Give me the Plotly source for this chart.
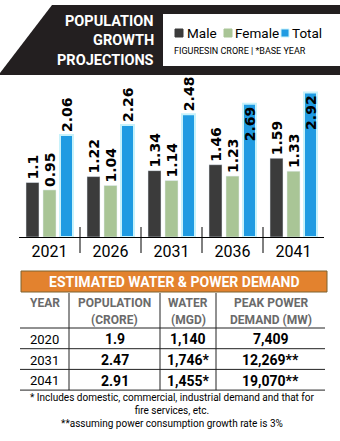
import plotly.graph_objects as go

# ---------------- data ----------------
years = ["2021", "2026", "2031", "2036", "2041"]
male = [1.1, 1.22, 1.34, 1.46, 1.59]
female = [0.95, 1.04, 1.14, 1.23, 1.33]
total = [2.06, 2.26, 2.48, 2.69, 2.92]

title_lines = ["POPULATION", "GROWTH", "PROJECTIONS"]
legend_names = ["Male", "Female", "Total"]
subnote = "FIGURESIN CRORE | *BASE YEAR"

table_title = "ESTIMATED WATER & POWER DEMAND"
table_header_top = ["YEAR", "POPULATION", "WATER", "PEAK POWER"]
table_header_bottom = ["", "(CRORE)", "(MGD)", "DEMAND (MW)"]
table_years = ["2020", "2031", "2041"]
table_population = ["1.9", "2.47", "2.91"]
table_water = ["1,140", "1,746*", "1,455*"]
table_power = ["7,409", "12,269**", "19,070**"]

footnotes = [
    "* Includes domestic, commercial, industrial demand and that for",
    "fire services, etc.",
    "**assuming power consumption growth rate is 3%",
]

# ---------------- style ----------------
W, H = 340, 441
C_MALE = "#3b3b3b"
C_FEMALE = "#a9c596"
C_TOTAL = "#1f9be2"
C_HALO = "#c8f2fb"
C_DARK = "#231f20"
C_ORANGE = "#e3822e"
NARROW = "Roboto, DejaVu Sans Condensed, sans-serif"
LABEL = "DejaVu Sans, sans-serif"


def X(px):
    return px / W


def Y(py):
    return 1 - py / H


fig = go.Figure()

label_font = dict(family=LABEL, size=14, color="black", weight="bold")
common = dict(texttemplate="%{y}", textangle=-90, textfont=label_font,
              outsidetextfont=label_font, insidetextfont=label_font,
              cliponaxis=False, constraintext="none")

fig.add_trace(go.Bar(x=years, y=male, name=legend_names[0], marker_color=C_MALE,
                     textposition="outside", **common))
fig.add_trace(go.Bar(x=years, y=female, name=legend_names[1], marker_color=C_FEMALE,
                     textposition="outside", **common))
fig.add_trace(go.Bar(x=years, y=total, name=legend_names[2], marker_color=C_TOTAL,
                     marker_line=dict(color=C_HALO, width=2),
                     textposition=["outside", "outside", "outside", "inside", "inside"],
                     insidetextanchor="end", **common))

shapes = []
# header dark band
shapes.append(dict(type="path", xref="paper", yref="paper",
                   path=f"M {X(52)},{Y(5)} L {X(340)},{Y(5)} L {X(340)},{Y(75)} L {X(0)},{Y(75)} L {X(0)},{Y(73)} Z",
                   fillcolor=C_DARK, line_width=0, layer="below"))
shapes.append(dict(type="rect", xref="paper", yref="paper",
                   x0=X(163), x1=X(340), y0=Y(66), y1=Y(14),
                   fillcolor="white", line_width=0, layer="below"))
# legend squares
for px, col in [(175, C_MALE), (224, C_FEMALE), (281, C_TOTAL)]:
    shapes.append(dict(type="rect", xref="paper", yref="paper",
                       x0=X(px), x1=X(px + 8), y0=Y(37), y1=Y(29),
                       fillcolor=col,
                       line=dict(color=C_HALO if col == C_TOTAL else col, width=1)))
# category separators
for i in range(len(years) - 1):
    shapes.append(dict(type="line", xref="x", yref="paper",
                       x0=i + 0.5, x1=i + 0.5, y0=Y(227), y1=Y(253),
                       line=dict(color="black", width=1)))
# orange title bar
shapes.append(dict(type="rect", xref="paper", yref="paper",
                   x0=X(21), x1=X(327), y0=Y(292), y1=Y(271),
                   fillcolor=C_ORANGE, line=dict(color="#7d6230", width=1)))

# table grid
col_edges = [20, 69, 160, 216, 325]
header_top_y, header_bot_y = 293, 328
row_h = 20.7
row_lines = [header_bot_y + row_h * (i + 1) for i in range(len(table_years))]
for py in [header_bot_y] + row_lines:
    shapes.append(dict(type="line", xref="paper", yref="paper",
                       x0=X(col_edges[0]), x1=X(col_edges[-1]), y0=Y(py), y1=Y(py),
                       line=dict(color="#222", width=1)))
for px in col_edges[1:-1]:
    shapes.append(dict(type="line", xref="paper", yref="paper",
                       x0=X(px), x1=X(px), y0=Y(header_top_y), y1=Y(row_lines[-1]),
                       line=dict(color="#222", width=1)))

annotations = []


def ann(text, px, py, font, xanchor="center"):
    annotations.append(dict(text=text, xref="paper", yref="paper", x=X(px), y=Y(py),
                            xanchor=xanchor, yanchor="middle", showarrow=False, font=font))


for txt, py in zip(title_lines, [22, 41, 60]):
    ann(txt, 156, py, dict(family=NARROW, size=14.5, color="white", weight="bold"), "right")
for txt, px in zip(legend_names, [185, 233, 290]):
    ann(txt, px, 33, dict(family=NARROW, size=13.5, color="black"), "left")
ann(subnote, 172, 51, dict(family=NARROW, size=9, color="black"), "left")
ann(table_title, 174, 281.5, dict(family=NARROW, size=14, color="white", weight="bold"))

centers = [(col_edges[i] + col_edges[i + 1]) / 2 for i in range(len(col_edges) - 1)]
hfont = dict(family=NARROW, size=12, color="#6a6a6a", weight="bold")
for c, t, b in zip(centers, table_header_top, table_header_bottom):
    ann(t, c, 303, hfont)
    if b:
        ann(b, c, 320, hfont)
columns = [table_years, table_population, table_water, table_power]
for ci, col in enumerate(columns):
    f = dict(family=NARROW, size=13 if ci == 0 else 14, color="black",
             weight="normal" if ci == 0 else "bold")
    for ri, v in enumerate(col):
        ann(v, centers[ci], header_bot_y + row_h * (ri + 0.5) + 1, f)

ann("<br>".join(footnotes), 172, 410.5, dict(family=NARROW, size=10, color="black"))

fig.update_layout(
    width=W, height=H, margin=dict(l=0, r=0, t=0, b=0),
    paper_bgcolor="white", plot_bgcolor="white",
    barmode="group", bargap=0.164, bargroupgap=0.235,
    showlegend=False, shapes=shapes, annotations=annotations,
    xaxis=dict(domain=[X(19), X(324)], type="category", showline=True,
               linecolor="black", linewidth=1.2, ticks="", showgrid=False,
               tickfont=dict(family=NARROW, size=16, color="black")),
    yaxis=dict(domain=[Y(237), Y(80)], range=[0, 3.17], visible=False,
               showgrid=False, zeroline=False),
)

fig.write_html("out.html")
